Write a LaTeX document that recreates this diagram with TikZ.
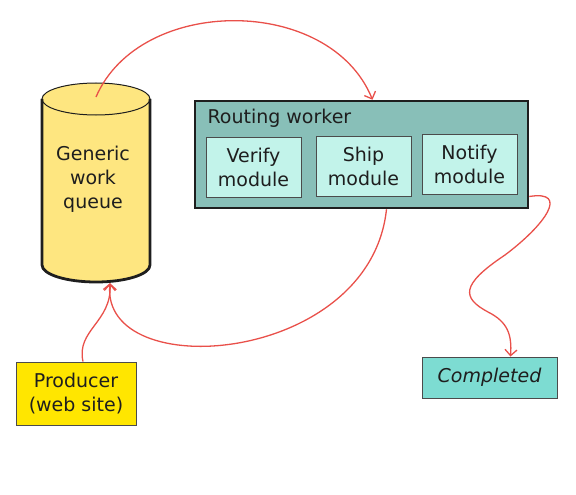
\documentclass[tikz,border=0pt]{standalone}
\usepackage{fontspec}
\setmainfont{DejaVu Sans}
\usetikzlibrary{arrows.meta}
\definecolor{qyellow}{RGB}{254,230,128}
\definecolor{workerfill}{RGB}{136,191,184}
\definecolor{modfill}{RGB}{194,243,234}
\definecolor{prodfill}{RGB}{255,230,0}
\definecolor{donefill}{RGB}{125,220,210}
\definecolor{arrowred}{RGB}{233,80,74}
\definecolor{ink}{RGB}{30,30,30}
\tikzset{
  txt/.style={font=\fontsize{19}{24}\selectfont, text=ink, align=center},
  modbox/.style={txt, draw=ink!80, line width=0.9pt, fill=modfill, minimum width=95, minimum height=60, inner sep=0pt},
  plainbox/.style={txt, draw=ink!80, line width=0.9pt, inner sep=0pt},
  flow/.style={draw=arrowred, line width=1.3pt, -{Straight Barb[length=6pt,width=12pt]}},
}
\begin{document}
\begin{tikzpicture}[x=1pt,y=-1pt]
\useasboundingbox (0,0) rectangle (576,495);

% queue cylinder
\path[fill=qyellow] (42,99) -- (42,265) arc[start angle=180,end angle=0,x radius=54,y radius=17] -- (150,99) arc[start angle=0,end angle=-180,x radius=54,y radius=16] -- cycle;
\draw[ink, line width=2.8pt, line join=round] (42,99) -- (42,265) arc[start angle=180,end angle=0,x radius=54,y radius=17] -- (150,99);
\draw[ink, line width=1pt] (96,99) ellipse[x radius=54, y radius=16];
\node[minimum width=110, minimum height=186, inner sep=0pt] (queue) at (96,190) {};
\node[txt] (qlabel) at (93,179) {Generic\\work\\queue};
\coordinate (qtop) at (96,97);

% routing worker
\node[draw=ink, line width=2.5pt, fill=workerfill, minimum width=333, minimum height=107, inner sep=0pt] (worker) at (361.5,154.5) {};
\node[txt, anchor=west] (wlabel) at (204,118) {Routing worker};
\node[modbox] (verify) at (253.5,167) {Verify\\module};
\node[modbox] (ship) at (363.5,166) {Ship\\module};
\node[modbox] (notify) at (469.5,164) {Notify\\module};

% producer and completed
\node[plainbox, fill=prodfill, minimum width=120, minimum height=63] (producer) at (76,393.5) {Producer\\(web site)};
\node[plainbox, fill=donefill, minimum width=135, minimum height=41, font=\fontsize{19}{24}\selectfont\itshape] (completed) at (489.5,377.5) {Completed};

% connectors
\draw[flow] (qtop) .. controls (140,-5) and (330,-5) .. ([xshift=11pt]worker.north);
\draw[flow] ([xshift=25pt]worker.south) .. controls (370,365) and (100,385) .. ([xshift=14pt]queue.south);
\draw[flow] ([xshift=7pt]producer.north) .. controls (76,330) and (112,322) .. ([xshift=14pt]queue.south);
\draw[flow] ([yshift=-42pt]worker.east) .. controls (570,190) and (545,225) .. (505,255) .. controls (460,285) and (462,298) .. (488,312) .. controls (508,322) and (512,335) .. ([xshift=21pt]completed.north);
\end{tikzpicture}
\end{document}
